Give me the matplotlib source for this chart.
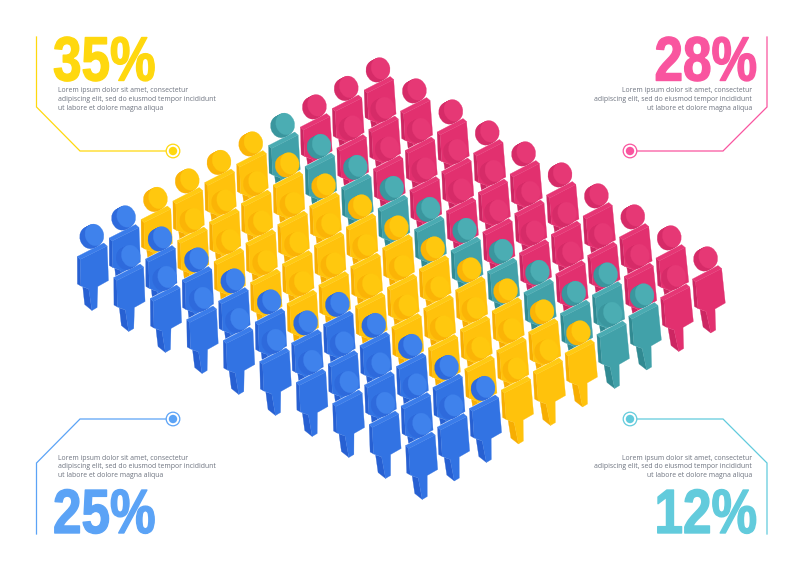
import matplotlib
matplotlib.use("Agg")
import matplotlib.pyplot as plt
from matplotlib.patches import Polygon, Ellipse, Circle
from matplotlib.patheffects import AbstractPathEffect
from matplotlib.transforms import Affine2D

categories = ["blue", "yellow", "teal", "pink"]
shares = [25, 35, 12, 28]
rows = 10
cols = 10
labels = ["25%", "35%", "12%", "28%"]
lorem = ["Lorem ipsum dolor sit amet, consectetur",
         "adipiscing elit, sed do eiusmod tempor incididunt",
         "ut labore et dolore magna aliqua"]

PAL = {
    "blue":   dict(main="#3273E3", dark="#2760D2", top="#3A7CEA", face="#3F82EC", side="#2E6ADC"),
    "yellow": dict(main="#FFC20C", dark="#F7AE02", top="#FFCA12", face="#FFC80E", side="#FBB406"),
    "teal":   dict(main="#41A1A9", dark="#318A92", top="#4AABB2", face="#4BADB3", side="#3A969E"),
    "pink":   dict(main="#E2306F", dark="#CC2662", top="#E63675", face="#E63875", side="#D62B68"),
}
ACCENT = {"blue": "#5BA3F6", "yellow": "#FFD80E", "teal": "#62CBDC", "pink": "#F9559F"}

fig = plt.figure(figsize=(8, 5.76), dpi=100)
ax = fig.add_axes([0, 0, 1, 1])
ax.set_xlim(0, 800)
ax.set_ylim(576, 0)
ax.axis("off")

# lattice of head centres
ORIGIN = (92, 236)
A = (36.4, 21.0)
C = (31.8, -18.5)

# person template relative to the head centre
BODY_TOP = [(-14, 20.5), (12, 7), (15.5, 10), (-11, 23.5)]
BODY_SIDE = [(-14, 20.5), (-11, 23.5), (-9.5, 50), (-13, 48)]
BODY_MAIN = [(-11, 23.5), (15.5, 10), (18, 44.5), (7.5, 50.5), (7.5, 71.5), (2.5, 74.5),
             (-1.5, 53), (-9.5, 50)]
LEG_SIDE = [(-7.5, 51), (-1.5, 53), (2.5, 74.5), (-5, 68.5)]
SILHOUETTE = [(-14, 20.5), (12, 7), (15.5, 10), (18, 44.5), (7.5, 50.5), (7.5, 71.5),
              (2.5, 74.5), (-5, 68.5), (-7.5, 51.5), (-13, 48)]


def person(hx, hy, name, order):
    p = PAL[name]
    s = 0.00011 * (hx - 399)

    def tr(pts):
        return [(hx + x + s * y, hy + y) for x, y in pts]

    ax.add_patch(Polygon(tr(SILHOUETTE), closed=True, fc="white", ec="white", lw=0.8,
                         joinstyle="round", zorder=order))
    for pts, col in ((BODY_SIDE, p["dark"]), (LEG_SIDE, p["dark"]),
                     (BODY_MAIN, p["main"]), (BODY_TOP, p["top"])):
        ax.add_patch(Polygon(tr(pts), closed=True, fc=col, ec=col, lw=0.2, zorder=order))
    n = 6
    for k in range(n + 1):
        t = k / n
        cx = hx - 2.8 + 5.2 * t
        cy = hy + 1.8 - 2.9 * t
        col = p["face"] if k == n else p["side"]
        ax.add_patch(Ellipse((cx, cy), 18.5, 22.0, angle=-18, fc=col, ec=col, lw=0.2,
                             zorder=order))


class Squeeze(AbstractPathEffect):
    """Condense a number horizontally about its anchor and thicken it."""

    def __init__(self, x0, sx, lw):
        super().__init__()
        self.x0, self.sx, self.lw = x0, sx, lw

    def draw_path(self, renderer, gc, tpath, affine, rgbFace=None):
        gc2 = renderer.new_gc()
        gc2.copy_properties(gc)
        gc2.set_linewidth(self.lw)
        gc2.set_foreground(rgbFace)
        t = affine + Affine2D().translate(-self.x0, 0).scale(self.sx, 1).translate(self.x0, 0)
        renderer.draw_path(gc2, tpath, t, rgbFace)
        gc2.restore()


# fill the lattice: row j from the front, cell i from the right
assign = {}
seq = [n for n, c in zip(categories, shares) for _ in range(c)]
idx = 0
for j in range(rows):
    for i in range(cols - 1, -1, -1):
        assign[(i, j)] = seq[idx]
        idx += 1

order = 10
for j in range(rows - 1, -1, -1):
    for i in range(cols):
        hx = ORIGIN[0] + i * A[0] + j * C[0]
        hy = ORIGIN[1] + i * A[1] + j * C[1]
        person(hx, hy, assign[(i, j)], order)
        order += 1

panels = {
    "yellow": dict(label=labels[1], side="L", num_y=80.5, text_y=[90.7, 99.3, 108.3],
                   line=[(36.5, 37), (36.5, 107), (80, 151), (166, 151)], dot=(173, 151)),
    "pink": dict(label=labels[3], side="R", num_y=80.5, text_y=[90.7, 99.3, 108.3],
                 line=[(767, 37), (767, 107), (723, 151), (637, 151)], dot=(630, 151)),
    "blue": dict(label=labels[0], side="L", num_y=533, text_y=[458.3, 467, 475.8],
                 line=[(36.5, 534), (36.5, 463), (80, 419), (166, 419)], dot=(173, 419)),
    "teal": dict(label=labels[2], side="R", num_y=533, text_y=[458.3, 467, 475.8],
                 line=[(767, 534), (767, 463), (723, 419), (637, 419)], dot=(630, 419)),
}

for name, P in panels.items():
    col = ACCENT[name]
    xs, ys = zip(*P["line"])
    ax.plot(xs, ys, color=col, lw=0.9, solid_joinstyle="miter", zorder=200)
    ax.add_patch(Circle(P["dot"], 6.8, fc="white", ec=col, lw=0.9, zorder=200))
    ax.add_patch(Circle(P["dot"], 4.2, fc=col, ec="none", zorder=201))
    left = P["side"] == "L"
    x0 = 53 if left else 757
    ax.text(x0, P["num_y"], P["label"], ha="left" if left else "right", va="baseline",
            color=col, family="Liberation Sans", weight="bold", fontsize=45, zorder=202,
            path_effects=[Squeeze(x0, 0.82, 1.0)])
    for line, y in zip(lorem, P["text_y"]):
        ax.text(58 if left else 752, y, line, ha="left" if left else "right", va="center",
                color="#6E7480", family="Open Sans", fontsize=4.98, zorder=202)

fig.savefig("out.png", dpi=100, facecolor="white")
